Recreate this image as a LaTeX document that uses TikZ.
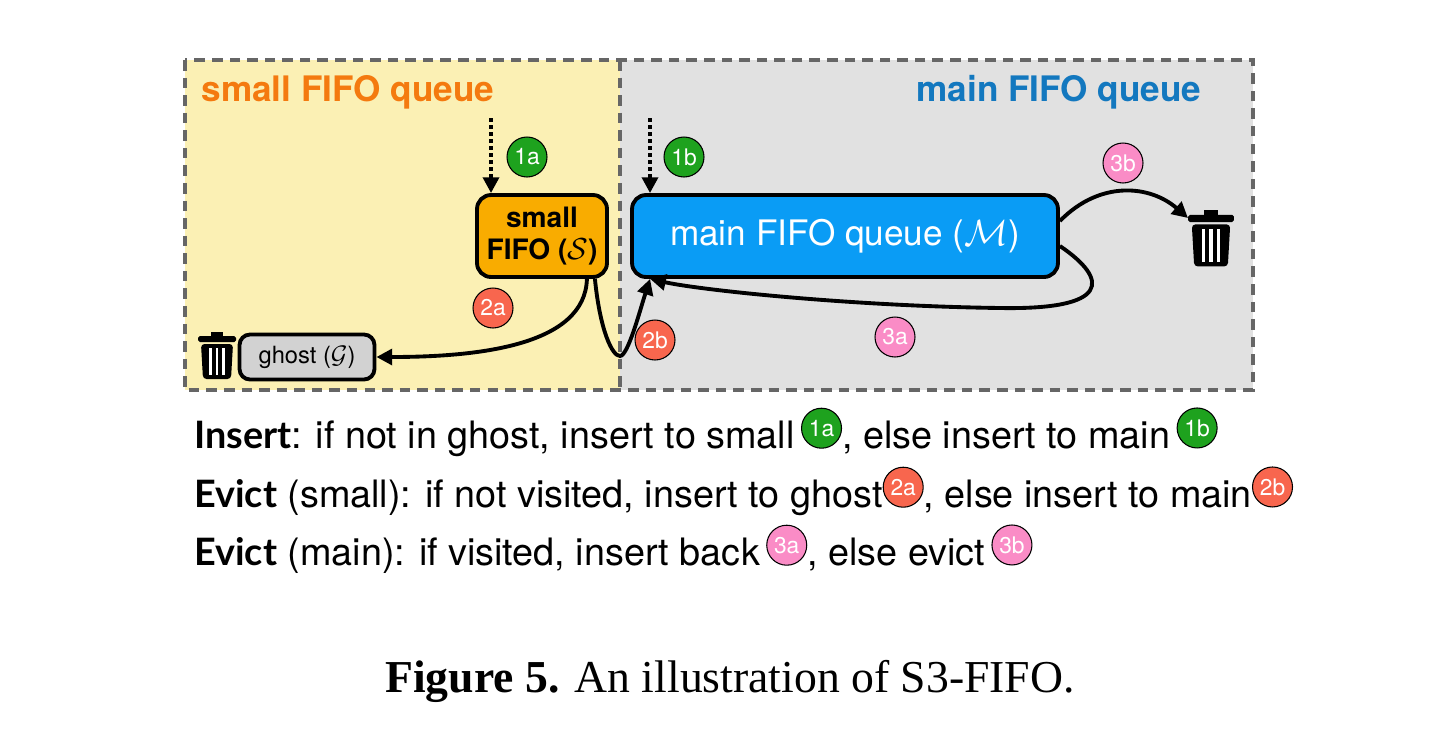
\documentclass[tikz,border=0pt]{standalone}
\usepackage{fontspec}
\setmainfont{TeX Gyre Heros}
\newfontfamily\capfont{Liberation Serif}
\newfontfamily\headfont{Lato}
\usetikzlibrary{arrows.meta}
\definecolor{smallbg}{HTML}{FBF0B4}
\definecolor{mainbg}{HTML}{E1E1E1}
\definecolor{smallfill}{HTML}{F9AC00}
\definecolor{mainfill}{HTML}{0A9CF5}
\definecolor{orangetxt}{HTML}{F47A0F}
\definecolor{bluetxt}{HTML}{1378BF}
\definecolor{badgegreen}{HTML}{1EA21E}
\definecolor{badgered}{HTML}{F8664E}
\definecolor{badgepink}{HTML}{FA8CC6}
\newcommand{\fsz}[1]{\fontsize{#1}{1.15\dimexpr#1pt\relax}\selectfont}
\begin{document}
\begin{tikzpicture}[x=0.02cm,y=-0.02cm,
		thick,
		queue box/.style={rounded corners=8,draw,line width=2.2pt,align=center},
		badge/.style={circle,draw,line width=0.6pt,text=white,inner sep=0pt,minimum size=0.8cm,font=\fsz{13}},
		flow/.style={line width=2.2pt,-{Triangle[length=9pt,width=9pt]}},
		bin/.pic={
			\fill[rounded corners=1] (-19,-21) rectangle (19,-15);
			\fill (-6,-25) rectangle (6,-21);
			\fill[rounded corners=2] (-16,-13) -- (16,-13) -- (14,22) -- (-14,22) -- cycle;
			\foreach \u in {-6.5,0,6.5}
			\fill[white] (\u-1.3,-9) rectangle (\u+1.3,18);
		}]
		\useasboundingbox (0,0) rectangle (1440,741);
		
		% the two regions
		\fill[smallbg] (185,60) rectangle (620,390);
		\fill[mainbg] (620,60) rectangle (1253,390);
		\draw[dashed,line width=2pt,gray!80!black,dash pattern=on 6pt off 4pt] (185,60) rectangle (1253,390) (620,60) -- (620,390);
		\node[anchor=west,font=\fsz{20}\bfseries,text=orangetxt] (stitle) at (195,92) {small FIFO queue};
		\node[anchor=east,font=\fsz{20}\bfseries,text=bluetxt] (mtitle) at (1208,92) {main FIFO queue};
		
		% queues
		\node[queue box,fill=smallfill,minimum width=2.6cm,minimum height=1.64cm,font=\fsz{16}\bfseries] (small) at (542,236) {small\\FIFO ($\mathcal{S}$)};
		\node[queue box,fill=mainfill,minimum width=8.52cm,minimum height=1.64cm,font=\fsz{20},text=white] (main) at (845,236) {main FIFO queue ($\mathcal{M}$)};
		\node[queue box,fill=gray!35,minimum width=2.7cm,minimum height=0.9cm,font=\fsz{13.5},rounded corners=6] (ghost) at (307,357) {ghost ($\mathcal{G}$)};
		\pic (gbin) at (217,357) {bin};
		\pic[scale=1.2] (mbin) at (1211,240) {bin};
		\coordinate (mtrash) at (1188,218);
		\coordinate (in1) at (491,118);
		\coordinate (in2) at (650,118);
		\coordinate (dip) at (620,356);
		
		% badges
		\node[badge,fill=badgegreen] (b1a) at (527,157) {1a};
		\node[badge,fill=badgegreen] (b1b) at (684,157) {1b};
		\node[badge,fill=badgered] (b2a) at (493,308) {2a};
		\node[badge,fill=badgered] (b2b) at (655,340) {2b};
		\node[badge,fill=badgepink] (b3a) at (895,337) {3a};
		\node[badge,fill=badgepink] (b3b) at (1123,163) {3b};
		
		% arrows
		\draw[line width=2.4pt,dash pattern=on 2pt off 2pt,-{Triangle[length=9pt,width=9pt]}] (in1) -- (in1 |- small.north);
		\draw[line width=2.4pt,dash pattern=on 2pt off 2pt,-{Triangle[length=9pt,width=9pt]}] (in2) -- (in2 |- main.north);
		\draw[flow] ([xshift=-0.44cm]small.south east) .. controls (585,345) and (480,357) .. (ghost.east);
		\draw[flow] ([xshift=-0.28cm]small.south east) .. controls (600,330) and (612,356) .. (dip) .. controls (628,356) and (640,310) .. ([xshift=0.4cm]main.south west);
		\draw[flow] ([yshift=-0.2cm]main.east) .. controls (1110,280) and (1110,310) .. (1000,308) .. controls (850,306) and (700,290) .. ([xshift=0.4cm]main.south west);
		\draw[flow] ([yshift=0.3cm]main.east) .. controls (1100,180) and (1150,185) .. (mtrash);
		
		% legend
		\node[anchor=base west,font=\fsz{21.5}] (l1) at (188,448) {{\headfont\bfseries Insert}: if not in ghost, insert to small\,\tikz[baseline=-0.6ex]\node[badge,fill=badgegreen]{1a};, else insert to main\,\tikz[baseline=-0.6ex]\node[badge,fill=badgegreen]{1b};};
		\node[anchor=base west,font=\fsz{21.5}] (l2) at (188,507) {{\headfont\bfseries Evict} (small): if not visited, insert to ghost\tikz[baseline=-0.6ex]\node[badge,fill=badgered]{2a};, else insert to main\tikz[baseline=-0.6ex]\node[badge,fill=badgered]{2b};};
		\node[anchor=base west,font=\fsz{21.5}] (l3) at (188,565) {{\headfont\bfseries Evict} (main): if visited, insert back\,\tikz[baseline=-0.6ex]\node[badge,fill=badgepink]{3a};, else evict\,\tikz[baseline=-0.6ex]\node[badge,fill=badgepink]{3b};};
		\node[anchor=base,font=\capfont\fsz{26}] (cap) at (730,692) {\textbf{Figure 5.} An illustration of S3-FIFO.};
\end{tikzpicture}
\end{document}
